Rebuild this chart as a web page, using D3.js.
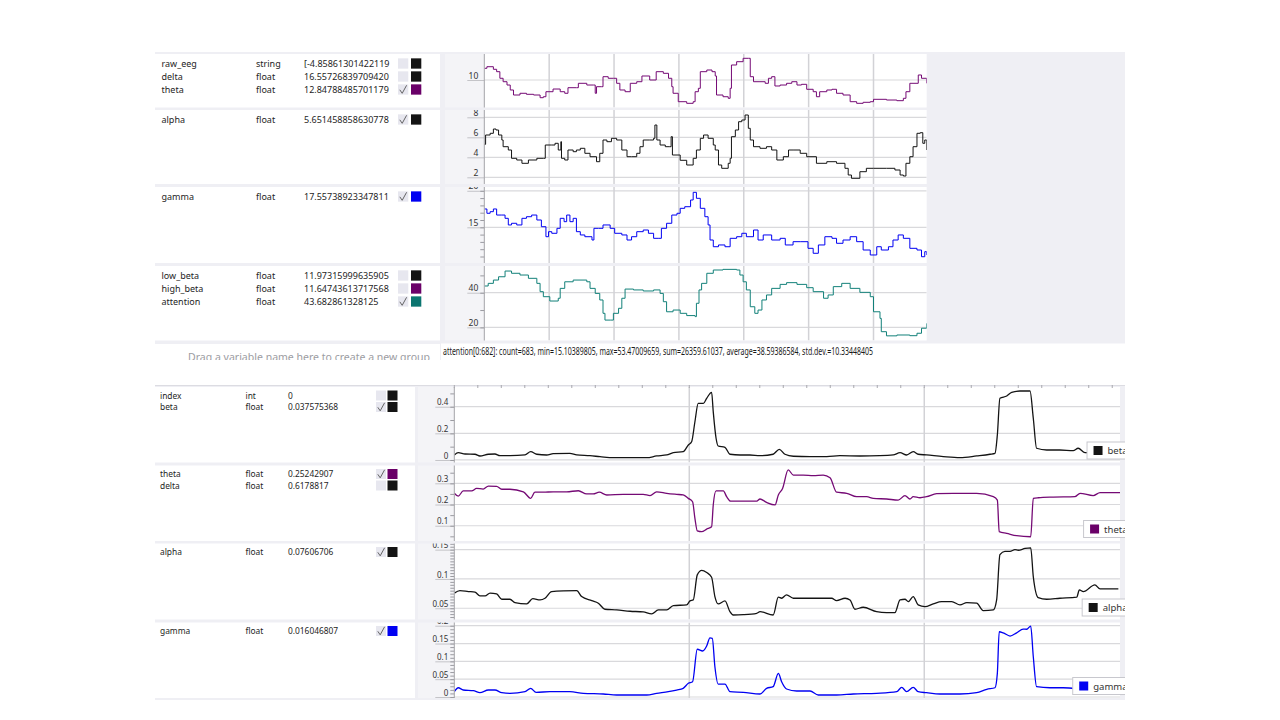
<!DOCTYPE html>
<html>
<head>
<meta charset="utf-8">
<script src="https://cdn.jsdelivr.net/npm/d3@7"></script>
<style>
body { margin: 0; background: #fff; }
svg text { font-family: "Noto Sans", "Open Sans", sans-serif; }
</style>
</head>
<body>
<div id="chart"></div>
<script>
// ---- top window: [index, value]
var thetaTop = [[0,12.66],[4,13.02],[14,12.43],[19,11.89],[24,10.39],[29,9.61],[35,8.86],[40,7.73],[45,6.59],[55,6.98],[65,6.75],[76,6.59],[86,5.98],[91,6.2],[95,7.34],[106,7.95],[117,7.34],[124,6.98],[129,8.25],[142,8.25],[145,9.25],[158,8.86],[168,8.86],[171,6.98],[173,8.48],[181,8.48],[183,10.75],[191,10.39],[199,10.39],[204,9.25],[209,7.73],[217,7.34],[225,9.25],[235,9.61],[243,10.91],[255,10.0],[265,11.89],[276,11.52],[284,10.39],[289,8.48],[291,6.98],[297,6.98],[299,5.07],[312,4.70],[322,5.07],[325,7.34],[330,8.11],[333,11.89],[343,12.27],[351,11.89],[356,10.91],[358,6.59],[368,6.2],[376,5.84],[379,8.11],[381,13.41],[389,14.16],[399,14.93],[407,14.93],[410,10.75],[415,9.61],[425,9.61],[433,9.25],[438,10.39],[443,10.75],[448,8.64],[456,8.86],[466,9.25],[474,9.61],[482,8.86],[489,9.02],[497,7.89],[507,7.34],[512,6.2],[517,7.34],[528,7.73],[536,7.89],[543,6.98],[553,6.59],[564,5.07],[574,4.70],[584,4.93],[595,5.07],[600,5.61],[620,5.45],[636,5.30],[646,5.84],[650,7.34],[656,9.25],[669,11.14],[674,10.39],[682,9.25]];
var alphaTop = [[0,5.3],[2,6.23],[9,6.4],[14,6.83],[18,6.73],[22,6.23],[27,5.73],[29,5.06],[37,4.73],[42,3.9],[50,3.73],[58,3.4],[68,3.73],[81,3.9],[91,3.9],[94,5.23],[104,5.23],[109,5.4],[114,4.73],[118,5.56],[119,3.9],[124,3.73],[129,4.73],[137,4.56],[142,4.73],[148,4.9],[155,4.4],[163,4.06],[173,3.56],[178,4.4],[183,5.73],[189,5.56],[196,5.9],[204,5.73],[212,4.73],[220,4.06],[227,4.06],[235,4.4],[240,5.06],[245,5.73],[255,5.73],[261,5.9],[263,7.23],[266,5.73],[271,5.23],[279,5.06],[286,5.06],[288,6.06],[290,4.23],[302,3.7],[312,3.23],[322,3.9],[327,4.73],[333,5.9],[338,6.23],[345,5.9],[353,5.23],[356,4.73],[361,3.23],[366,2.9],[376,3.4],[379,3.9],[381,6.06],[387,6.73],[392,7.56],[397,7.73],[402,8.23],[407,6.9],[410,5.73],[415,5.06],[425,4.9],[435,5.06],[443,4.73],[451,3.73],[461,4.06],[469,4.73],[476,4.73],[487,4.4],[497,4.06],[512,3.4],[528,3.56],[543,3.4],[556,2.9],[561,2.23],[566,1.9],[579,2.56],[589,2.9],[600,2.9],[610,2.9],[620,2.9],[633,2.73],[641,2.23],[646,2.13],[650,3.4],[656,4.06],[661,5.06],[667,6.4],[672,6.46],[676,5.4],[679,5.73],[682,4.73]];
var gammaTop = [[0,17.51],[4,16.92],[9,17.14],[14,17.51],[19,16.68],[27,16.68],[32,16.23],[37,15.32],[42,15.55],[50,15.32],[58,16.23],[65,16.45],[73,16.68],[81,16.0],[88,15.08],[95,13.71],[99,14.4],[104,14.18],[112,14.86],[117,16.23],[123,15.77],[127,16.68],[132,15.77],[137,16.23],[142,14.4],[148,13.95],[155,13.71],[163,13.71],[166,13.26],[169,14.86],[176,14.86],[183,15.32],[194,14.86],[201,14.18],[212,13.95],[220,13.26],[227,13.71],[235,14.4],[245,14.63],[253,14.18],[261,13.49],[268,13.49],[273,14.86],[281,15.55],[289,16.68],[297,16.92],[302,17.6],[309,17.82],[318,18.74],[322,19.79],[327,18.97],[333,17.6],[340,16.45],[345,15.32],[348,13.26],[353,12.34],[361,12.58],[371,12.34],[379,13.49],[389,13.71],[397,14.18],[404,13.71],[415,14.63],[422,13.26],[430,13.95],[443,13.26],[456,13.49],[464,12.58],[476,13.03],[487,13.03],[499,12.12],[507,11.44],[515,12.58],[525,13.71],[536,13.49],[543,12.81],[553,13.26],[564,13.71],[574,13.03],[584,11.89],[595,11.21],[605,12.34],[612,11.89],[623,12.34],[630,13.26],[638,13.95],[646,13.49],[656,12.12],[667,11.89],[674,10.97],[679,11.66],[682,11.21]];
var attentionTop = [[0,43.87],[6,45.4],[14,47.3],[22,49.2],[32,52.5],[42,51.2],[55,50.2],[68,48.3],[81,45.4],[86,40.6],[91,37.7],[101,35.2],[114,36.8],[117,42.5],[124,46.3],[137,47.3],[158,46.3],[163,42.5],[171,39.6],[178,35.8],[183,28.1],[186,24.2],[195,24.2],[199,28.1],[207,31.0],[212,36.8],[217,42.1],[230,41.6],[245,41.0],[261,41.6],[271,39.6],[276,34.8],[281,29.0],[291,30.0],[302,28.1],[312,26.8],[325,26.2],[327,33.9],[331,41.6],[335,45.4],[343,51.2],[353,53.1],[368,53.47],[389,53.1],[394,50.2],[399,46.3],[404,41.6],[410,31.9],[417,28.1],[422,30.0],[428,35.8],[435,38.7],[443,42.5],[456,44.8],[466,45.8],[482,44.8],[497,42.9],[507,40.6],[523,36.8],[530,38.7],[538,43.5],[551,45.4],[564,42.5],[579,40.2],[595,37.7],[600,29.0],[610,25.2],[612,17.5],[620,15.1],[636,15.6],[656,15.2],[667,16.6],[674,19.5],[682,22.3]];

// ---- bottom window: [position, value]
var betaBot = [[0,0.0375],[1.7,0.055],[4.6,0.045],[8.8,0.043],[10.9,0.03],[14.5,0.043],[17.3,0.045],[19.4,0.032],[23.7,0.032],[30.1,0.0375],[32.5,0.062],[35.1,0.043],[39.3,0.0375],[42.1,0.047],[49.2,0.05],[52.1,0.0375],[57.7,0.032],[62,0.025],[67.7,0.017],[74.8,0.017],[81.9,0.017],[86.1,0.03],[90.4,0.0375],[93.2,0.055],[97.4,0.062],[99.6,0.1125],[101,0.137],[102.4,0.287],[103.8,0.425],[106,0.425],[107.4,0.463],[109.5,0.508],[110.2,0.362],[111.4,0.163],[112.3,0.105],[115.2,0.095],[117.3,0.043],[121.6,0.0375],[125.8,0.0375],[130.1,0.032],[135.7,0.043],[138.3,0.08],[140.7,0.043],[144.3,0.028],[151.4,0.025],[158.5,0.025],[164.1,0.032],[172.6,0.03],[181.1,0.032],[186.8,0.0375],[189.7,0.055],[192.5,0.0375],[195.3,0.062],[197.4,0.043],[201,0.0375],[208.1,0.025],[215.2,0.017],[222.3,0.03],[228,0.043],[230.1,0.05],[231.1,0.1875],[232.2,0.463],[235.1,0.48],[237.2,0.508],[240.7,0.518],[245,0.518],[246.4,0.313],[247.8,0.088],[252.1,0.075],[257.7,0.075],[263.4,0.07],[265.5,0.088],[268.4,0.055],[283.3,0.05]];
var thetaBot = [[0,0.253],[1.7,0.24],[3.8,0.264],[7.4,0.264],[9.5,0.276],[12.3,0.273],[14.5,0.287],[18,0.286],[20.2,0.272],[23.7,0.272],[29.4,0.26],[32.5,0.229],[34.3,0.258],[37.9,0.258],[42.1,0.26],[47.8,0.26],[52.8,0.265],[56.3,0.25],[59.1,0.25],[61.7,0.258],[64.9,0.245],[71.9,0.248],[80.4,0.248],[83.3,0.242],[86.1,0.26],[90.4,0.253],[94.6,0.248],[97.4,0.245],[99.6,0.229],[101.4,0.213],[102.4,0.135],[103.4,0.076],[105.3,0.072],[107.4,0.084],[109.5,0.095],[110.2,0.198],[111.4,0.264],[114.5,0.264],[115.9,0.237],[117.6,0.216],[123,0.216],[128.7,0.216],[130.1,0.226],[132.9,0.21],[136.5,0.198],[137.9,0.245],[139.7,0.276],[142.1,0.363],[144.3,0.339],[148.5,0.339],[152.8,0.336],[157,0.339],[159.9,0.326],[162.7,0.258],[167,0.253],[171.2,0.237],[175.5,0.237],[178.3,0.229],[184,0.226],[188.9,0.221],[191.8,0.242],[193.9,0.226],[195.3,0.237],[198.2,0.232],[201,0.237],[205.3,0.251],[212.3,0.253],[222.3,0.253],[229.4,0.237],[231.1,0.221],[231.9,0.072],[235.1,0.064],[239.3,0.053],[245.3,0.048],[246.4,0.229],[248.5,0.232],[254.9,0.235],[264.1,0.237],[266.3,0.253],[271.9,0.242],[274.8,0.256],[283.3,0.256]];
var alphaBot = [[0,0.0757],[2.4,0.080],[6,0.0785],[8.8,0.0775],[10.9,0.071],[13.1,0.071],[15.2,0.0757],[18,0.0745],[20.2,0.0654],[23.7,0.0654],[25.8,0.0596],[30.8,0.0574],[33.4,0.0665],[36.5,0.0642],[38.6,0.0671],[41.4,0.0785],[46.4,0.0797],[52.1,0.080],[54.2,0.0699],[58.5,0.063],[61.3,0.0586],[64.1,0.0483],[69.1,0.0471],[74.8,0.0449],[80.4,0.0437],[84,0.0403],[86.8,0.0471],[90.4,0.0471],[93.2,0.0545],[98.9,0.0557],[100.3,0.0625],[101.7,0.0642],[103.4,0.107],[105.3,0.1145],[107.4,0.111],[109.5,0.103],[110.9,0.0699],[112.3,0.0574],[115.2,0.0625],[117.3,0.0442],[118.7,0.0385],[123,0.039],[128.7,0.0414],[130.1,0.0442],[135.7,0.0385],[137.9,0.0689],[139.3,0.0671],[141.4,0.0728],[144.3,0.0671],[150,0.0671],[160.6,0.0671],[162.7,0.063],[166.3,0.0671],[168.4,0.0642],[170.5,0.0483],[174,0.0517],[179.7,0.0442],[184,0.0425],[187.5,0.0425],[189.7,0.0642],[191.8,0.0654],[193.2,0.0613],[195.3,0.0699],[197.4,0.0557],[200.3,0.0527],[203.8,0.0574],[207.4,0.0613],[211.7,0.0613],[215.2,0.0557],[218.1,0.0596],[222.3,0.0586],[225.1,0.0459],[229.4,0.0471],[230.8,0.0642],[232.2,0.1414],[234.3,0.147],[236.5,0.147],[238.6,0.15],[240,0.149],[242.9,0.152],[245.3,0.153],[246.4,0.104],[248.5,0.0682],[252.1,0.0654],[257.7,0.0671],[264.9,0.0689],[266,0.0814],[267.7,0.0785],[272.6,0.09],[274.8,0.083],[282.6,0.083]];
var gammaBot = [[0,0.0149],[1.7,0.026],[3.8,0.0196],[8.1,0.0177],[10.9,0.012],[14.5,0.0196],[17.3,0.0196],[20.2,0.012],[23.7,0.0103],[30.1,0.0149],[32.5,0.0244],[34.8,0.0131],[40.7,0.0149],[49.2,0.0149],[54.9,0.0103],[63.4,0.0084],[69.1,0.0056],[81.9,0.0056],[86.1,0.0103],[91.1,0.0149],[94.6,0.0196],[97.4,0.0244],[99.6,0.0384],[101.4,0.0429],[103.4,0.134],[105.7,0.129],[107.4,0.143],[108.8,0.166],[109.8,0.1646],[110.9,0.085],[112.3,0.0364],[115.2,0.0364],[117.3,0.0149],[123,0.0131],[130.1,0.0084],[132.9,0.0244],[135.7,0.0289],[137.9,0.0664],[139.3,0.0429],[141.4,0.0224],[145.7,0.0168],[151.4,0.0168],[154.9,0.0056],[162.7,0.0056],[169.8,0.0084],[179.7,0.0103],[188.3,0.0149],[190.4,0.0272],[192.5,0.0149],[195.3,0.0272],[197.4,0.0149],[201,0.012],[206.7,0.0084],[215.2,0.0084],[222.3,0.012],[226.6,0.0216],[230.1,0.026],[231.1,0.0664],[231.9,0.183],[233.6,0.18],[236.5,0.171],[239.3,0.18],[242.1,0.1906],[243.6,0.19],[245.3,0.199],[246.4,0.113],[247.8,0.0289],[253.5,0.026],[259.1,0.026],[264.1,0.0244],[283.3,0.0244]];

// ---- variable tables
var topNames = ["raw_eeg", "delta", "theta", "alpha", "gamma", "low_beta", "high_beta", "attention"];
var topTypes = ["string", "float", "float", "float", "float", "float", "float", "float"];
var topValues = ["[-4.85861301422119", "16.55726839709420", "12.84788485701179", "5.651458858630778", "17.55738923347811", "11.97315999635905", "11.64743613717568", "43.682861328125"];
var topGroups = [0, 0, 0, 1, 2, 3, 3, 3];
var topChecked = [false, false, true, true, true, false, false, true];

var botNames = ["index", "beta", "theta", "delta", "alpha", "gamma"];
var botTypes = ["int", "float", "float", "float", "float", "float"];
var botValues = ["0", "0.037575368", "0.25242907", "0.6178817", "0.07606706", "0.016046807"];
var botGroups = [0, 0, 1, 1, 2, 3];
var botChecked = [false, true, true, false, true, true];
var botLegend = ["beta", "theta", "alpha", "gamma"];

var statusText = "attention[0:682]: count=683, min=15.10389805, max=53.47009659, sum=26359.61037, average=38.59386584, std.dev.=10.33448405";
var dropText = "Drag a variable name here to create a new group";

// colours
var cBlack = "#141414", cPurple = "#750a75", cBlue = "#0000f2", cTeal = "#128079";
var sqPurple = "#6a0068", sqTeal = "#0b7570";
var topColors = [cBlack, cBlack, sqPurple, cBlack, cBlue, cBlack, sqPurple, sqTeal];
var botColors = [cBlack, cBlack, sqPurple, cBlack, cBlack, cBlue];

var svg = d3.select("#chart").append("svg").attr("width", 1280).attr("height", 720);
var defs = svg.append("defs");
var fmt = d3.format("~g");

var topPanel = {
    id: "t", left: 155, right: 1125, top: 52, bottom: 360, tableRight: 440, gutter: 445,
    x: d3.scaleLinear().domain([0, 682]).range([484.3, 926.7]),
    vgrid: [100, 200, 300, 400, 500, 600], tickLen: 17, font: 8.5, lineW: 1,
    rows: [
        {y0: 54, y1: 107.5, lo: 3.75, hi: 15.91, major: [10], minorCount: 0, data: thetaTop, color: cPurple, curve: d3.curveStepAfter},
        {y0: 110, y1: 184, lo: 1.33, hi: 8.73, major: [2, 4, 6, 8], minorCount: 0, data: alphaTop, color: cBlack, curve: d3.curveStepAfter},
        {y0: 187, y1: 263, lo: 10.11, hi: 20.52, major: [15, 20], minorCount: 10, data: gammaTop, color: cBlue, curve: d3.curveStepAfter},
        {y0: 266, y1: 340.5, lo: 12.42, hi: 55.41, major: [20, 40], minorCount: 4, data: attentionTop, color: cTeal, curve: d3.curveStepAfter}
    ]
};

var botPanel = {
    id: "b", left: 155, right: 1125, top: 385, bottom: 700, tableRight: 415, gutter: 418,
    x: d3.scaleLinear().domain([0, 283.3]).range([454.3, 1120]),
    vgrid: [100, 200], tickLen: 19, font: 8, lineW: 1.3,
    rows: [
        {y0: 387, y1: 462.5, lo: -0.019, hi: 0.548, major: [0, 0.2, 0.4], minorCount: 5, data: betaBot, color: cBlack, curve: d3.curveMonotoneX},
        {y0: 465.5, y1: 541, lo: 0.028, hi: 0.384, major: [0.1, 0.2, 0.3], minorCount: 8, data: thetaBot, color: cPurple, curve: d3.curveMonotoneX},
        {y0: 543.5, y1: 619.5, lo: 0.0308, hi: 0.1605, major: [0.05, 0.1, 0.15], minorCount: 26, data: alphaBot, color: cBlack, curve: d3.curveMonotoneX},
        {y0: 622.5, y1: 698, lo: -0.0028, hi: 0.209, major: [0, 0.05, 0.1, 0.15, 0.2], minorCount: 20, data: gammaBot, color: cBlue, curve: d3.curveMonotoneX}
    ]
};

function drawPanel(p) {
    var x = p.x, x0 = x.range()[0], x1 = x.range()[1];

    // panel background shows through as the separators
    svg.append("rect")
        .attr("x", p.left).attr("y", p.top)
        .attr("width", p.right - p.left).attr("height", p.bottom - p.top)
        .attr("fill", "#efeff4");

    p.rows.forEach(function(row, i) {
        var y = d3.scaleLinear().domain([row.lo, row.hi]).range([row.y1, row.y0]);
        var h = row.y1 - row.y0;

        // table cell, gutter, plot
        svg.append("rect").attr("x", p.left).attr("y", row.y0).attr("width", p.tableRight - p.left).attr("height", h).attr("fill", "#fff");
        svg.append("rect").attr("x", p.gutter).attr("y", row.y0).attr("width", x0 - p.gutter).attr("height", h).attr("fill", "#f4f4f7");
        svg.append("rect").attr("x", x0).attr("y", row.y0).attr("width", x1 - x0).attr("height", h).attr("fill", "#fff");

        defs.append("clipPath").attr("id", p.id + "plot" + i)
            .append("rect").attr("x", x0).attr("y", row.y0).attr("width", x1 - x0).attr("height", h);
        defs.append("clipPath").attr("id", p.id + "axis" + i)
            .append("rect").attr("x", p.gutter).attr("y", row.y0).attr("width", x0 - p.gutter + 1).attr("height", h);

        var plot = svg.append("g").attr("clip-path", "url(#" + p.id + "plot" + i + ")");

        // grid
        plot.selectAll("hgrid")
            .data(row.major)
            .enter()
            .append("line")
                .attr("x1", x0).attr("x2", x1)
                .attr("y1", function(d) { return y(d); })
                .attr("y2", function(d) { return y(d); })
                .attr("stroke", "#d9d9dc").attr("stroke-width", 1.2);
        plot.selectAll("vgrid")
            .data(p.vgrid)
            .enter()
            .append("line")
                .attr("x1", function(d) { return x(d); })
                .attr("x2", function(d) { return x(d); })
                .attr("y1", row.y0).attr("y2", row.y1)
                .attr("stroke", "#d2d2d6").attr("stroke-width", 1.5);

        // series
        var line = d3.line()
            .x(function(d) { return x(d[0]); })
            .y(function(d) { return y(d[1]); })
            .curve(row.curve);
        plot.append("path")
            .datum(row.data)
            .attr("d", line)
            .attr("fill", "none")
            .attr("stroke", row.color)
            .attr("stroke-width", p.lineW)
            .attr("stroke-linejoin", "round");

        // y axis, labels sit on top of their tick
        var axWrap = svg.append("g").attr("clip-path", "url(#" + p.id + "axis" + i + ")");
        var ax = axWrap.append("g").attr("transform", "translate(" + x0 + ",0)");
        ax.call(d3.axisLeft(y).tickValues(row.major).tickSize(p.tickLen).tickFormat(fmt));
        ax.select(".domain").remove();
        ax.selectAll("line").attr("stroke", "#c4c4c8");
        ax.selectAll("text")
            .attr("x", -6).attr("dy", "-0.22em")
            .attr("fill", "#333")
            .style("font-size", p.font + "px")
            .style("font-family", "'Noto Sans', sans-serif");
        if (row.minorCount > 0) {
            var mn = axWrap.append("g").attr("transform", "translate(" + x0 + ",0)");
            mn.call(d3.axisLeft(y).ticks(row.minorCount).tickSize(4).tickFormat(""));
            mn.select(".domain").remove();
            mn.selectAll("line").attr("stroke", "#9a9aa0");
        }

        svg.append("line")
            .attr("x1", x0).attr("x2", x0).attr("y1", row.y0).attr("y2", row.y1)
            .attr("stroke", "#a4a4a8").attr("stroke-width", 1);
    });
}

function drawTable(p, t) {
    var seen = {};
    t.names.forEach(function(name, i) {
        var grp = t.groups[i];
        var k = seen[grp] || 0;
        seen[grp] = k + 1;
        var cy = p.rows[grp].y0 + t.first + k * t.step;
        var base = cy + t.font * 0.36;

        svg.append("text").attr("x", t.nameX).attr("y", base).attr("fill", "#1e1e1e").style("font-size", t.font + "px").text(name);
        svg.append("text").attr("x", t.typeX).attr("y", base).attr("fill", "#1e1e1e").style("font-size", t.font + "px").text(t.types[i]);
        svg.append("text").attr("x", t.valX).attr("y", base).attr("fill", "#1e1e1e").style("font-size", t.font + "px").text(t.values[i]);

        svg.append("rect")
            .attr("x", t.boxX).attr("y", cy - t.box / 2)
            .attr("width", t.box).attr("height", t.box)
            .attr("fill", "#e7e7ef");
        if (t.checked[i]) {
            svg.append("path")
                .attr("d", "M" + (t.boxX + 1.8) + "," + (cy + 0.3) +
                           " L" + (t.boxX + 4.2) + "," + (cy + 3.8) +
                           " L" + (t.boxX + 8.6) + "," + (cy - 4.2))
                .attr("fill", "none").attr("stroke", "#555").attr("stroke-width", 0.9);
        }
        svg.append("rect")
            .attr("x", t.colX).attr("y", cy - t.box / 2)
            .attr("width", t.box).attr("height", t.box)
            .attr("fill", t.colors[i]);
    });
}

// ---------------- top window
drawPanel(topPanel);
drawTable(topPanel, {names: topNames, types: topTypes, values: topValues, groups: topGroups, checked: topChecked, colors: topColors,
    nameX: 161.5, typeX: 256, valX: 304, boxX: 398, colX: 411, box: 10.3, font: 9, first: 9.5, step: 13});

// status bar + empty drop group
defs.append("clipPath").attr("id", "topclip")
    .append("rect").attr("x", 155).attr("y", 52).attr("width", 970).attr("height", 308);
var tail = svg.append("g").attr("clip-path", "url(#topclip)");
tail.append("rect").attr("x", 155).attr("y", 344).attr("width", 285).attr("height", 20).attr("fill", "#fff");
tail.append("rect").attr("x", 441).attr("y", 343.5).attr("width", 684).attr("height", 20).attr("fill", "#fff");
tail.append("text")
    .attr("x", 309).attr("y", 360.5)
    .attr("text-anchor", "middle")
    .attr("fill", "#9c9ca2")
    .attr("textLength", 242).attr("lengthAdjust", "spacingAndGlyphs")
    .style("font-size", "10.2px")
    .text(dropText);
tail.append("text")
    .attr("x", 443).attr("y", 355)
    .attr("fill", "#1a1a1a")
    .attr("textLength", 430).attr("lengthAdjust", "spacingAndGlyphs")
    .style("font-size", "10.6px")
    .text(statusText);

// ---------------- bottom window
drawPanel(botPanel);
drawTable(botPanel, {names: botNames, types: botTypes, values: botValues, groups: botGroups, checked: botChecked, colors: botColors,
    nameX: 160, typeX: 245.5, valX: 288, boxX: 376, colX: 387.5, box: 10, font: 8.4, first: 8.5, step: 11.5});

// right strip and top ruler ticks
svg.append("rect").attr("x", 1120).attr("y", 387).attr("width", 5).attr("height", 313).attr("fill", "#efeff4");
svg.append("line").attr("x1", 155).attr("x2", 1125).attr("y1", 385.5).attr("y2", 385.5).attr("stroke", "#dcdce2");
svg.append("g").selectAll("rtick")
    .data(botPanel.x.ticks(28))
    .enter()
    .append("line")
        .attr("x1", function(d) { return botPanel.x(d); })
        .attr("x2", function(d) { return botPanel.x(d); })
        .attr("y1", 385).attr("y2", 388)
        .attr("stroke", "#a8a8ae");

// legends, cut by the window edge
defs.append("clipPath").attr("id", "legclip")
    .append("rect").attr("x", 1000).attr("y", 385).attr("width", 125).attr("height", 320);
var leg = svg.append("g").attr("clip-path", "url(#legclip)");
botPanel.rows.forEach(function(row, i) {
    var lg = leg.append("g");
    var txt = lg.append("text")
        .attr("y", row.y1 - 8.3)
        .attr("fill", "#333")
        .style("font-size", "9.5px")
        .text(botLegend[i]);
    var tw = txt.node().getComputedTextLength();
    var bx = 1131 - (tw + 24);
    txt.attr("x", bx + 20.5);
    lg.insert("rect", "text")
        .attr("x", bx).attr("y", row.y1 - 20.5)
        .attr("width", tw + 30).attr("height", 17)
        .attr("fill", "#fff").attr("stroke", "#c8c8ce");
    lg.append("rect")
        .attr("x", bx + 6.5).attr("y", row.y1 - 16.5)
        .attr("width", 9).attr("height", 9)
        .attr("fill", row.color === cPurple ? sqPurple : row.color);
});
</script>
</body>
</html>
